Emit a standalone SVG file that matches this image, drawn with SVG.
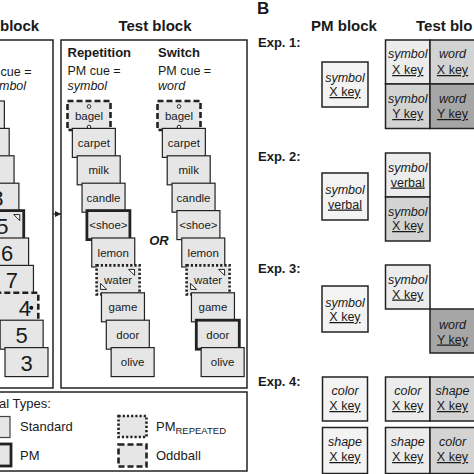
<svg xmlns="http://www.w3.org/2000/svg" width="474" height="474" viewBox="0 0 474 474">
<style>
text{font-family:"Liberation Sans",Arial,sans-serif;fill:#1a1a1a}
.h{font-size:15px;font-weight:bold}
.sub{font-size:13px;font-weight:bold}
.lab{font-size:12.5px}
.it{font-style:italic}
.box{fill:none;stroke:#222;stroke-width:1.5}
.card{fill:#e6e6e6;stroke:#222;stroke-width:1.2}
.odd{stroke-width:2.6;stroke-dasharray:6 3}
.rep{stroke-width:2.6;stroke-dasharray:2.2 2}
.pm{stroke-width:2.8}
.ct{font-size:11.5px;text-anchor:middle}
.big{font-size:22px;text-anchor:middle}
.tri{fill:#fff;stroke:#222;stroke-width:1}
.mk{fill:#fff;stroke:#222;stroke-width:1}
.pmb{fill:#f3f3f3;stroke:#222;stroke-width:1.5}
.cell{stroke:#222;stroke-width:1.5}
.c1{fill:#ececec}.c2{fill:#d3d3d3}.c3{fill:#a6a6a6}
.cx{font-size:12.5px;text-anchor:middle}
.u{text-decoration:underline}
.leg{font-size:13px}
</style>
<defs>
<marker id="ah" viewBox="0 0 6 6" refX="6" refY="3" markerWidth="6" markerHeight="6" orient="auto" markerUnits="userSpaceOnUse"><path d="M0,0L6,3L0,6Z" fill="#222"/></marker>
</defs>

<!-- Panel A titles -->
<g id="titleA">
<text class="h" x="0" y="31">block</text>
<text class="h" x="155" y="31" text-anchor="middle">Test block</text>
</g>

<!-- PM block frame -->
<g id="pmBlockA">
<rect class="box" x="-5" y="40" width="58" height="348"/>
<text class="lab" x="0.5" y="76">cue =</text>
<text class="lab it" x="-1" y="90">mbol</text>
</g>

<!-- PM block cards -->
<g id="pm0" transform="translate(-38.65,101)"><rect class="card" width="43" height="29"/></g>
<g id="pm1" transform="translate(-33.8,128.4)"><rect class="card" width="43" height="29"/></g>
<g id="pm2" transform="translate(-28.95,155.8)"><rect class="card" width="43" height="29"/></g>
<g id="pm3" transform="translate(-24.1,183.2)"><rect class="card" width="43" height="29"/><text class="big" x="21.5" y="23">8</text></g>
<g id="pm4" transform="translate(-19.25,210.6)"><rect class="card pm" width="43" height="29"/><text class="big" x="21.5" y="23">5</text><path class="tri" d="M33,4H39V10Z"/></g>
<g id="pm5" transform="translate(-14.4,238)"><rect class="card" width="43" height="29"/><text class="big" x="21.5" y="23">6</text></g>
<g id="pm6" transform="translate(-9.55,265.4)"><rect class="card" width="43" height="29"/><text class="big" x="21.5" y="23">7</text></g>
<g id="pm7" transform="translate(-4.7,292.8)"><rect class="card odd" width="43" height="29"/><text class="big" x="29.5" y="23">4</text><circle cx="36" cy="15" r="2" fill="#111"/></g>
<g id="pm8" transform="translate(0.15,320.2)"><rect class="card" width="43" height="29"/><text class="big" x="21.5" y="23">5</text></g>
<g id="pm9" transform="translate(5,347.6)"><rect class="card" width="43" height="29"/><text class="big" x="21.5" y="23">3</text></g>

<!-- Test block frame -->
<g id="testBlockA">
<rect class="box" x="61" y="40" width="186" height="348"/>
<text class="sub" x="67.5" y="57">Repetition</text>
<text class="lab" x="67.5" y="75">PM cue =</text>
<text class="lab it" x="67.5" y="90">symbol</text>
<text class="sub" x="158" y="57">Switch</text>
<text class="lab" x="158" y="75">PM cue =</text>
<text class="lab it" x="158" y="90">word</text>
<text class="sub it" x="159" y="245" text-anchor="middle">OR</text>
</g>

<!-- Repetition cards -->
<g id="r0" transform="translate(67.5,101)"><rect class="card odd" width="43" height="29"/><text class="ct" x="21.5" y="19">bagel</text><circle class="mk" cx="21.5" cy="5.5" r="1.8"/><circle class="mk" cx="21.5" cy="26" r="1.8"/></g>
<g id="r1" transform="translate(72.35,128.4)"><rect class="card" width="43" height="29"/><text class="ct" x="21.5" y="18.5">carpet</text></g>
<g id="r2" transform="translate(77.2,155.8)"><rect class="card" width="43" height="29"/><text class="ct" x="21.5" y="18.5">milk</text></g>
<g id="r3" transform="translate(82.05,183.2)"><rect class="card" width="43" height="29"/><text class="ct" x="21.5" y="18.5">candle</text></g>
<g id="r4" transform="translate(86.9,210.6)"><rect class="card pm" width="43" height="29"/><text class="ct" x="21.5" y="18.5">&lt;shoe&gt;</text></g>
<g id="r5" transform="translate(91.75,238)"><rect class="card" width="43" height="29"/><text class="ct" x="21.5" y="18.5">lemon</text></g>
<g id="r6" transform="translate(96.6,265.4)"><rect class="card rep" width="43" height="29"/><text class="ct" x="21.5" y="18.5">water</text><path class="tri" d="M32,4H38V10Z"/><path class="tri" d="M4,18V24H10Z"/></g>
<g id="r7" transform="translate(101.45,292.8)"><rect class="card" width="43" height="29"/><text class="ct" x="21.5" y="18.5">game</text></g>
<g id="r8" transform="translate(106.3,320.2)"><rect class="card" width="43" height="29"/><text class="ct" x="21.5" y="18.5">door</text></g>
<g id="r9" transform="translate(111.15,347.6)"><rect class="card" width="43" height="29"/><text class="ct" x="21.5" y="18.5">olive</text></g>

<!-- Switch cards -->
<g id="s0" transform="translate(157.5,101)"><rect class="card odd" width="43" height="29"/><text class="ct" x="21.5" y="19">bagel</text><circle class="mk" cx="21.5" cy="5.5" r="1.8"/><circle class="mk" cx="21.5" cy="26" r="1.8"/></g>
<g id="s1" transform="translate(162.35,128.4)"><rect class="card" width="43" height="29"/><text class="ct" x="21.5" y="18.5">carpet</text></g>
<g id="s2" transform="translate(167.2,155.8)"><rect class="card" width="43" height="29"/><text class="ct" x="21.5" y="18.5">milk</text></g>
<g id="s3" transform="translate(172.05,183.2)"><rect class="card" width="43" height="29"/><text class="ct" x="21.5" y="18.5">candle</text></g>
<g id="s4" transform="translate(176.9,210.6)"><rect class="card" width="43" height="29"/><text class="ct" x="21.5" y="18.5">&lt;shoe&gt;</text></g>
<g id="s5" transform="translate(181.75,238)"><rect class="card" width="43" height="29"/><text class="ct" x="21.5" y="18.5">lemon</text></g>
<g id="s6" transform="translate(186.6,265.4)"><rect class="card rep" width="43" height="29"/><text class="ct" x="21.5" y="18.5">water</text><path class="tri" d="M32,4H38V10Z"/><path class="tri" d="M4,18V24H10Z"/></g>
<g id="s7" transform="translate(191.45,292.8)"><rect class="card" width="43" height="29"/><text class="ct" x="21.5" y="18.5">game</text></g>
<g id="s8" transform="translate(196.3,320.2)"><rect class="card pm" width="43" height="29"/><text class="ct" x="21.5" y="18.5">door</text></g>
<g id="s9" transform="translate(201.15,347.6)"><rect class="card" width="43" height="29"/><text class="ct" x="21.5" y="18.5">olive</text></g>

<!-- Connectors -->
<g id="connectors">
<line x1="53" y1="214" x2="61" y2="214" stroke="#222" stroke-width="1.2" marker-end="url(#ah)"/>
</g>

<!-- Legend -->
<g id="legend">
<rect class="box" x="-5" y="392" width="252" height="79"/>
<text class="leg" x="-1" y="408">al Types:</text>
<rect class="card" x="-18" y="416.5" width="28" height="21" style="stroke:#444"/>
<text class="leg" x="20" y="431">Standard</text>
<rect class="card pm" x="-17" y="444" width="28" height="22"/>
<text class="leg" x="20" y="460">PM</text>
<rect class="card rep" x="118.5" y="416" width="28" height="21"/>
<text class="leg" x="156" y="431">PM<tspan font-size="9.5" dy="3">REPEATED</tspan></text>
<rect class="card odd" x="118.5" y="444.5" width="28" height="22"/>
<text class="leg" x="156" y="460">Oddball</text>
</g>

<!-- Panel B -->
<g id="titleB">
<text x="257" y="14" font-size="17" font-weight="bold">B</text>
<text class="h" x="344" y="31" text-anchor="middle">PM block</text>
<text class="h" x="416" y="31">Test blo</text>
</g>

<g id="exp1">
<text class="sub" x="258" y="47">Exp. 1:</text>
<rect class="pmb" x="322" y="62" width="46" height="45"/>
<text class="cx it" x="345" y="81.5">symbol</text><text class="cx u" x="345" y="96">X key</text>
<rect class="cell c1" x="385.5" y="40" width="44.5" height="44"/>
<rect class="cell c2" x="430" y="40" width="45" height="44"/>
<rect class="cell c2" x="385.5" y="84" width="44.5" height="44.5"/>
<rect class="cell c3" x="430" y="84" width="45" height="44.5"/>
<text class="cx it" x="407.75" y="58">symbol</text><text class="cx u" x="407.75" y="74">X key</text>
<text class="cx it" x="452.5" y="58">word</text><text class="cx u" x="452.5" y="74">X key</text>
<text class="cx it" x="407.75" y="102.5">symbol</text><text class="cx u" x="407.75" y="118">Y key</text>
<text class="cx it" x="452.5" y="102.5">word</text><text class="cx u" x="452.5" y="118">Y key</text>
</g>

<g id="exp2">
<text class="sub" x="258" y="161">Exp. 2:</text>
<rect class="pmb" x="322" y="173" width="46" height="47"/>
<text class="cx it" x="345" y="194">symbol</text><text class="cx u" x="345" y="208.5">verbal</text>
<rect class="cell c1" x="385.5" y="153" width="44.5" height="44"/>
<rect class="cell c2" x="385.5" y="197" width="44.5" height="44"/>
<text class="cx it" x="407.75" y="171.5">symbol</text><text class="cx u" x="407.75" y="186.5">verbal</text>
<text class="cx it" x="407.75" y="215.5">symbol</text><text class="cx u" x="407.75" y="230">X key</text>
</g>

<g id="exp3">
<text class="sub" x="258" y="273">Exp. 3:</text>
<rect class="pmb" x="322" y="286" width="46" height="46"/>
<text class="cx it" x="345" y="306.5">symbol</text><text class="cx u" x="345" y="321">X key</text>
<rect class="cell c1" x="385.5" y="265" width="44.5" height="44"/>
<rect class="cell c3" x="430" y="309" width="45" height="44"/>
<text class="cx it" x="407.75" y="284">symbol</text><text class="cx u" x="407.75" y="298.5">X key</text>
<text class="cx it" x="452.5" y="329">word</text><text class="cx u" x="452.5" y="343.5">Y key</text>
</g>

<g id="exp4">
<text class="sub" x="258" y="386">Exp. 4:</text>
<rect class="pmb" x="322.5" y="377" width="45" height="44"/>
<text class="cx it" x="345" y="395">color</text><text class="cx u" x="345" y="410">X key</text>
<rect class="pmb" x="322.5" y="427.5" width="45" height="46"/>
<text class="cx it" x="345" y="446">shape</text><text class="cx u" x="345" y="461">X key</text>
<rect class="cell c1" x="385.5" y="377" width="44.5" height="44"/>
<rect class="cell c2" x="430" y="377" width="45" height="44"/>
<rect class="cell c1" x="385.5" y="427.5" width="44.5" height="46"/>
<rect class="cell c2" x="430" y="427.5" width="45" height="46"/>
<text class="cx it" x="407.75" y="395">color</text><text class="cx u" x="407.75" y="410">X key</text>
<text class="cx it" x="452.5" y="395">shape</text><text class="cx u" x="452.5" y="410">X key</text>
<text class="cx it" x="407.75" y="446">shape</text><text class="cx u" x="407.75" y="461">X key</text>
<text class="cx it" x="452.5" y="446">color</text><text class="cx u" x="452.5" y="461">X key</text>
</g>
</svg>
